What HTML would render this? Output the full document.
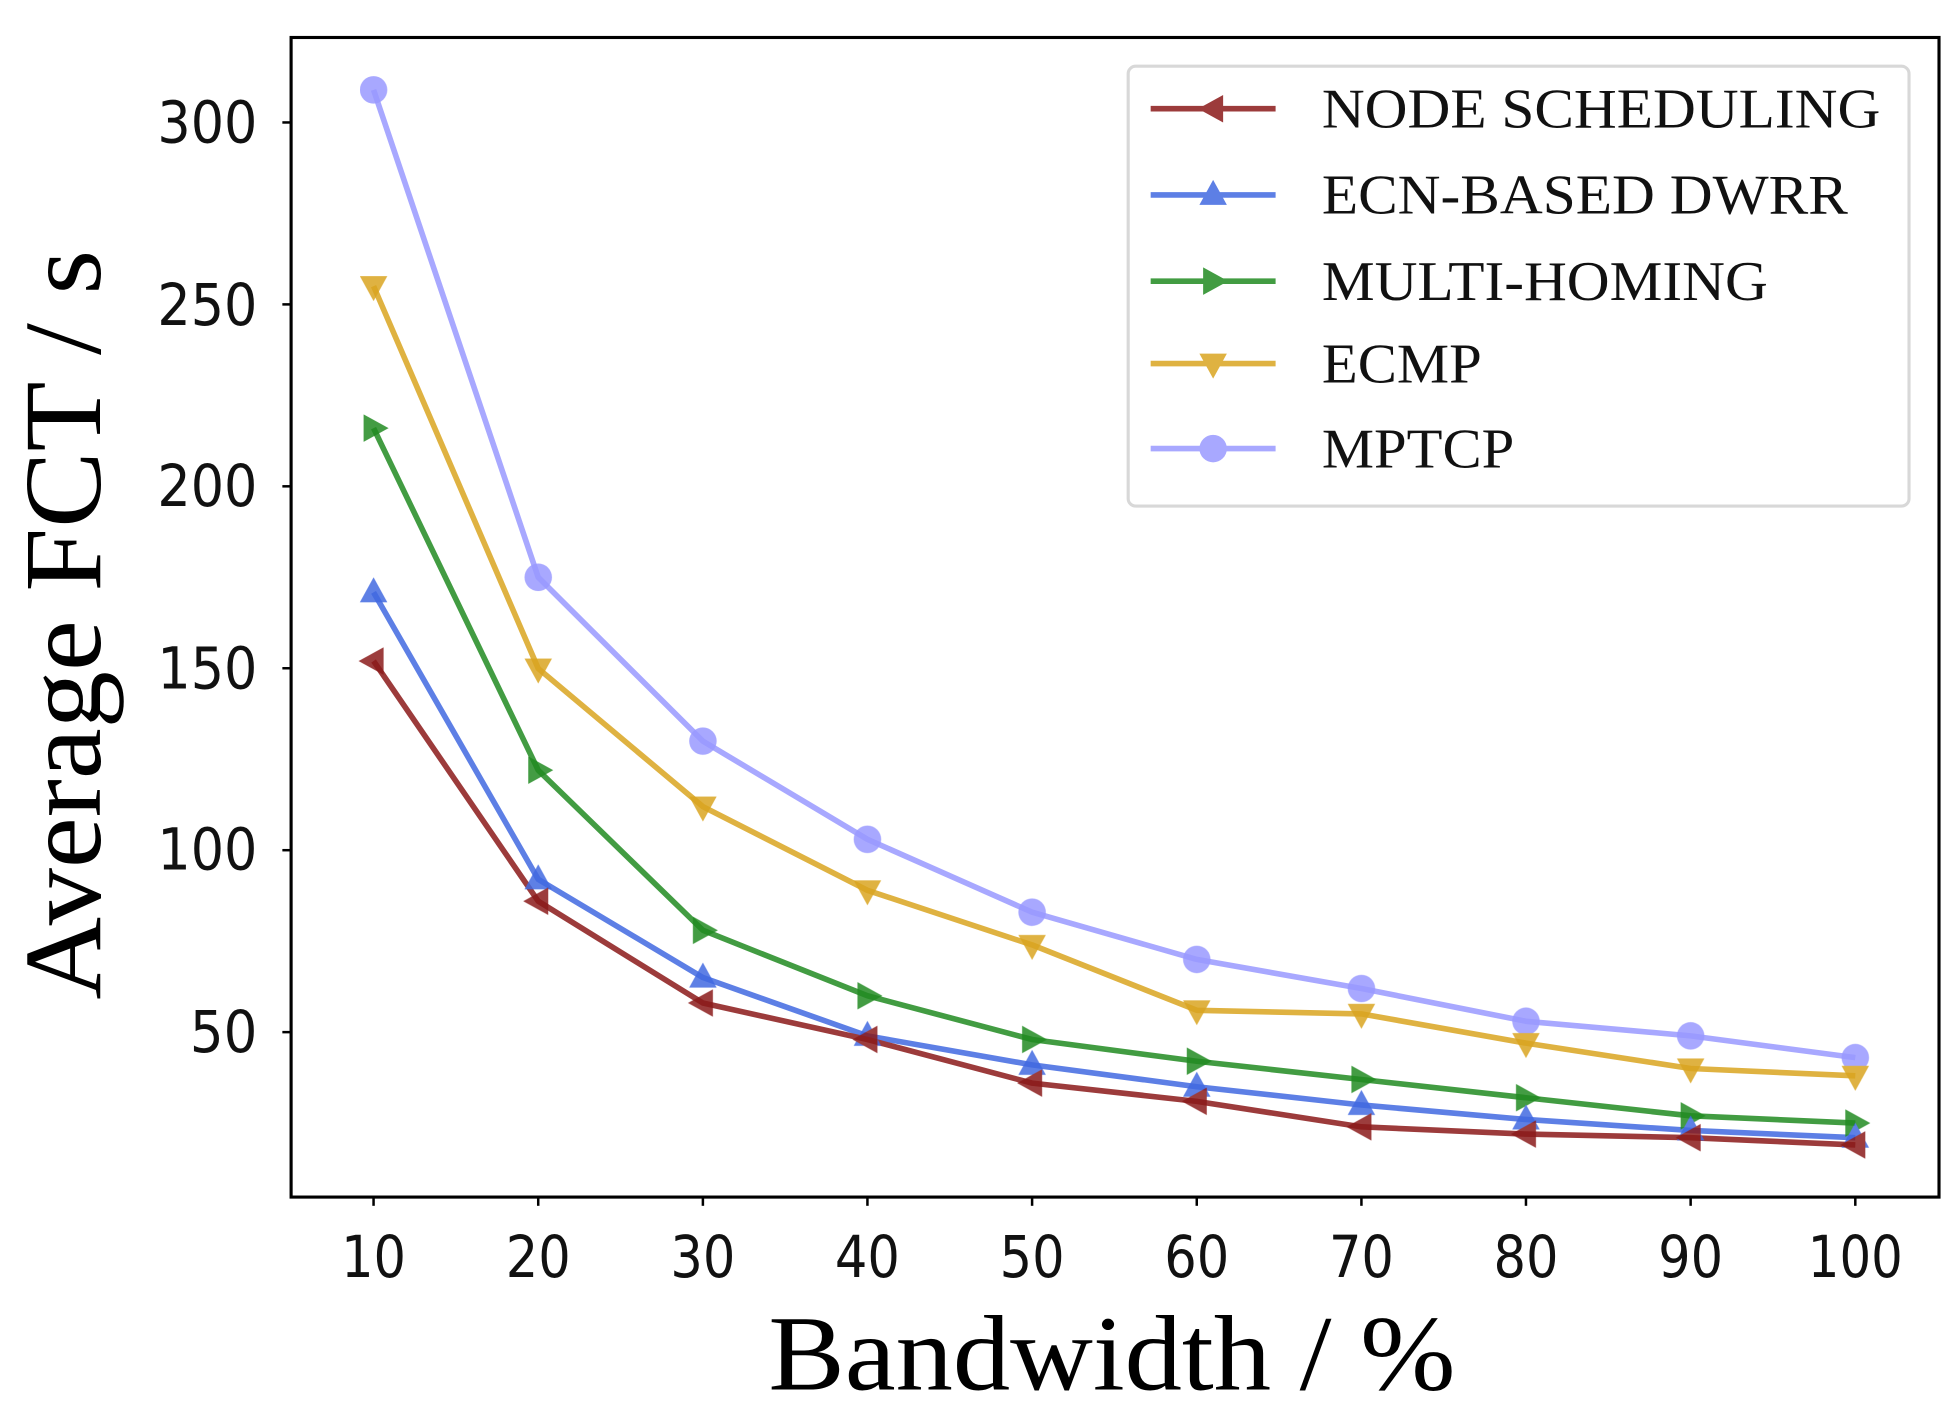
<!DOCTYPE html>
<html><head><meta charset="utf-8"><style>html,body{margin:0;padding:0;background:#fff;overflow:hidden}svg{display:block}</style></head>
<body>
<svg width="1959" height="1412" viewBox="0 0 1568 1130" preserveAspectRatio="none" xmlns="http://www.w3.org/2000/svg">
<defs>
<g id="mL"><polygon points="-12,0 8,-11 8,11"/></g>
<g id="mU"><polygon points="0,-12 -11,8 11,8"/></g>
<g id="mR"><polygon points="12,0 -8,-11 -8,11"/></g>
<g id="mD"><polygon points="0,12 -11,-8 11,-8"/></g>
<g id="mO"><circle r="11"/></g>
</defs>
<rect x="0" y="0" width="1568" height="1130" fill="#fff"/>
<rect x="233" y="30" width="1319" height="928" fill="none" stroke="#000" stroke-width="2.5"/>
<g stroke="#000" stroke-width="2">
<line x1="226" y1="98" x2="233" y2="98"/><line x1="226" y1="243.6" x2="233" y2="243.6"/><line x1="226" y1="389.2" x2="233" y2="389.2"/><line x1="226" y1="534.8" x2="233" y2="534.8"/><line x1="226" y1="680.4" x2="233" y2="680.4"/><line x1="226" y1="826" x2="233" y2="826"/>
<line x1="299" y1="958" x2="299" y2="965"/><line x1="430.8" y1="958" x2="430.8" y2="965"/><line x1="562.6" y1="958" x2="562.6" y2="965"/><line x1="694.3" y1="958" x2="694.3" y2="965"/><line x1="826.1" y1="958" x2="826.1" y2="965"/><line x1="957.9" y1="958" x2="957.9" y2="965"/><line x1="1089.7" y1="958" x2="1089.7" y2="965"/><line x1="1221.4" y1="958" x2="1221.4" y2="965"/><line x1="1353.2" y1="958" x2="1353.2" y2="965"/><line x1="1485" y1="958" x2="1485" y2="965"/>
</g>
<g font-family="'DejaVu Sans Condensed','DejaVu Sans',sans-serif" font-size="46" fill="#111" text-anchor="end">
<text x="206" y="114" textLength="80" lengthAdjust="spacingAndGlyphs">300</text>
<text x="206" y="260" textLength="80" lengthAdjust="spacingAndGlyphs">250</text>
<text x="206" y="405" textLength="80" lengthAdjust="spacingAndGlyphs">200</text>
<text x="206" y="551" textLength="80" lengthAdjust="spacingAndGlyphs">150</text>
<text x="206" y="696" textLength="80" lengthAdjust="spacingAndGlyphs">100</text>
<text x="206" y="842" textLength="54" lengthAdjust="spacingAndGlyphs">50</text>
</g>
<g font-family="'DejaVu Sans Condensed','DejaVu Sans',sans-serif" font-size="46" fill="#111" text-anchor="middle">
<text x="299" y="1022" textLength="52" lengthAdjust="spacingAndGlyphs">10</text><text x="430.8" y="1022" textLength="52" lengthAdjust="spacingAndGlyphs">20</text><text x="562.6" y="1022" textLength="52" lengthAdjust="spacingAndGlyphs">30</text><text x="694.3" y="1022" textLength="52" lengthAdjust="spacingAndGlyphs">40</text><text x="826.1" y="1022" textLength="52" lengthAdjust="spacingAndGlyphs">50</text><text x="957.9" y="1022" textLength="52" lengthAdjust="spacingAndGlyphs">60</text><text x="1089.7" y="1022" textLength="52" lengthAdjust="spacingAndGlyphs">70</text><text x="1221.4" y="1022" textLength="52" lengthAdjust="spacingAndGlyphs">80</text><text x="1353.2" y="1022" textLength="52" lengthAdjust="spacingAndGlyphs">90</text><text x="1485" y="1022" textLength="76" lengthAdjust="spacingAndGlyphs">100</text>
</g>
<text x="890" y="1112" font-family="'Liberation Serif',serif" font-size="86" text-anchor="middle" fill="#000" textLength="550" lengthAdjust="spacingAndGlyphs">Bandwidth / %</text>
<text transform="translate(80,500) rotate(-90)" font-family="'Liberation Serif',serif" font-size="88" text-anchor="middle" fill="#000" textLength="600" lengthAdjust="spacingAndGlyphs">Average FCT / s</text>

<g fill="none" stroke-width="4.5" stroke-linejoin="round" opacity="0.85">
<polyline stroke="#9999ff" points="299,71.9 430.8,462 562.6,593.1 694.3,671.7 826.1,730 957.9,767.8 1089.7,791.1 1221.4,817.3 1353.2,829 1485,846.4"/>
<polyline stroke="#daa520" points="299,229 430.8,535 562.6,645.5 694.3,712.5 826.1,756.2 957.9,808.5 1089.7,811.4 1221.4,834.8 1353.2,855.1 1485,861"/>
<polyline stroke="#228b22" points="299,342.6 430.8,616.4 562.6,744.5 694.3,796.9 826.1,831.9 957.9,849.3 1089.7,863.9 1221.4,878.5 1353.2,893 1485,898.8"/>
<polyline stroke="#4169e1" points="299,474 430.8,703.7 562.6,782.3 694.3,829 826.1,852.2 957.9,869.7 1089.7,884.3 1221.4,895.9 1353.2,904.7 1485,910.5"/>
<polyline stroke="#8b1a1a" points="299,529 430.8,721.2 562.6,802.7 694.3,831.9 826.1,866.8 957.9,881.4 1089.7,901.8 1221.4,907.6 1353.2,910.5 1485,916.3"/>
</g>
<g opacity="0.85">
<g fill="#9999ff"><use href="#mO" x="299" y="71.9"/><use href="#mO" x="430.8" y="462"/><use href="#mO" x="562.6" y="593.1"/><use href="#mO" x="694.3" y="671.7"/><use href="#mO" x="826.1" y="730"/><use href="#mO" x="957.9" y="767.8"/><use href="#mO" x="1089.7" y="791.1"/><use href="#mO" x="1221.4" y="817.3"/><use href="#mO" x="1353.2" y="829"/><use href="#mO" x="1485" y="846.4"/></g>
<g fill="#daa520"><use href="#mD" x="299" y="229"/><use href="#mD" x="430.8" y="535"/><use href="#mD" x="562.6" y="645.5"/><use href="#mD" x="694.3" y="712.5"/><use href="#mD" x="826.1" y="756.2"/><use href="#mD" x="957.9" y="808.5"/><use href="#mD" x="1089.7" y="811.4"/><use href="#mD" x="1221.4" y="834.8"/><use href="#mD" x="1353.2" y="855.1"/><use href="#mD" x="1485" y="861"/></g>
<g fill="#228b22"><use href="#mR" x="299" y="342.6"/><use href="#mR" x="430.8" y="616.4"/><use href="#mR" x="562.6" y="744.5"/><use href="#mR" x="694.3" y="796.9"/><use href="#mR" x="826.1" y="831.9"/><use href="#mR" x="957.9" y="849.3"/><use href="#mR" x="1089.7" y="863.9"/><use href="#mR" x="1221.4" y="878.5"/><use href="#mR" x="1353.2" y="893"/><use href="#mR" x="1485" y="898.8"/></g>
<g fill="#4169e1"><use href="#mU" x="299" y="474"/><use href="#mU" x="430.8" y="703.7"/><use href="#mU" x="562.6" y="782.3"/><use href="#mU" x="694.3" y="829"/><use href="#mU" x="826.1" y="852.2"/><use href="#mU" x="957.9" y="869.7"/><use href="#mU" x="1089.7" y="884.3"/><use href="#mU" x="1221.4" y="895.9"/><use href="#mU" x="1353.2" y="904.7"/><use href="#mU" x="1485" y="910.5"/></g>
<g fill="#8b1a1a"><use href="#mL" x="299" y="529"/><use href="#mL" x="430.8" y="721.2"/><use href="#mL" x="562.6" y="802.7"/><use href="#mL" x="694.3" y="831.9"/><use href="#mL" x="826.1" y="866.8"/><use href="#mL" x="957.9" y="881.4"/><use href="#mL" x="1089.7" y="901.8"/><use href="#mL" x="1221.4" y="907.6"/><use href="#mL" x="1353.2" y="910.5"/><use href="#mL" x="1485" y="916.3"/></g>
</g>

<rect x="903" y="53" width="625" height="352" rx="6" fill="#fff" stroke="#d8d8d8" stroke-width="2.5"/>
<g stroke-width="4.5" opacity="0.85">
<line x1="921" y1="87" x2="1021" y2="87" stroke="#8b1a1a"/><use href="#mL" x="971" y="87" fill="#8b1a1a"/>
<line x1="921" y1="156" x2="1021" y2="156" stroke="#4169e1"/><use href="#mU" x="971" y="156" fill="#4169e1"/>
<line x1="921" y1="225" x2="1021" y2="225" stroke="#228b22"/><use href="#mR" x="971" y="225" fill="#228b22"/>
<line x1="921" y1="291" x2="1021" y2="291" stroke="#daa520"/><use href="#mD" x="971" y="291" fill="#daa520"/>
<line x1="921" y1="359" x2="1021" y2="359" stroke="#9999ff"/><use href="#mO" x="971" y="359" fill="#9999ff"/>
</g>
<g font-family="'Liberation Serif',serif" font-size="45" fill="#111">
<text x="1058" y="102" textLength="447" lengthAdjust="spacingAndGlyphs">NODE SCHEDULING</text>
<text x="1058" y="171" textLength="421" lengthAdjust="spacingAndGlyphs">ECN-BASED DWRR</text>
<text x="1058" y="240" textLength="357" lengthAdjust="spacingAndGlyphs">MULTI-HOMING</text>
<text x="1058" y="306" textLength="128" lengthAdjust="spacingAndGlyphs">ECMP</text>
<text x="1058" y="374" textLength="154" lengthAdjust="spacingAndGlyphs">MPTCP</text>
</g>
</svg>
</body></html>
